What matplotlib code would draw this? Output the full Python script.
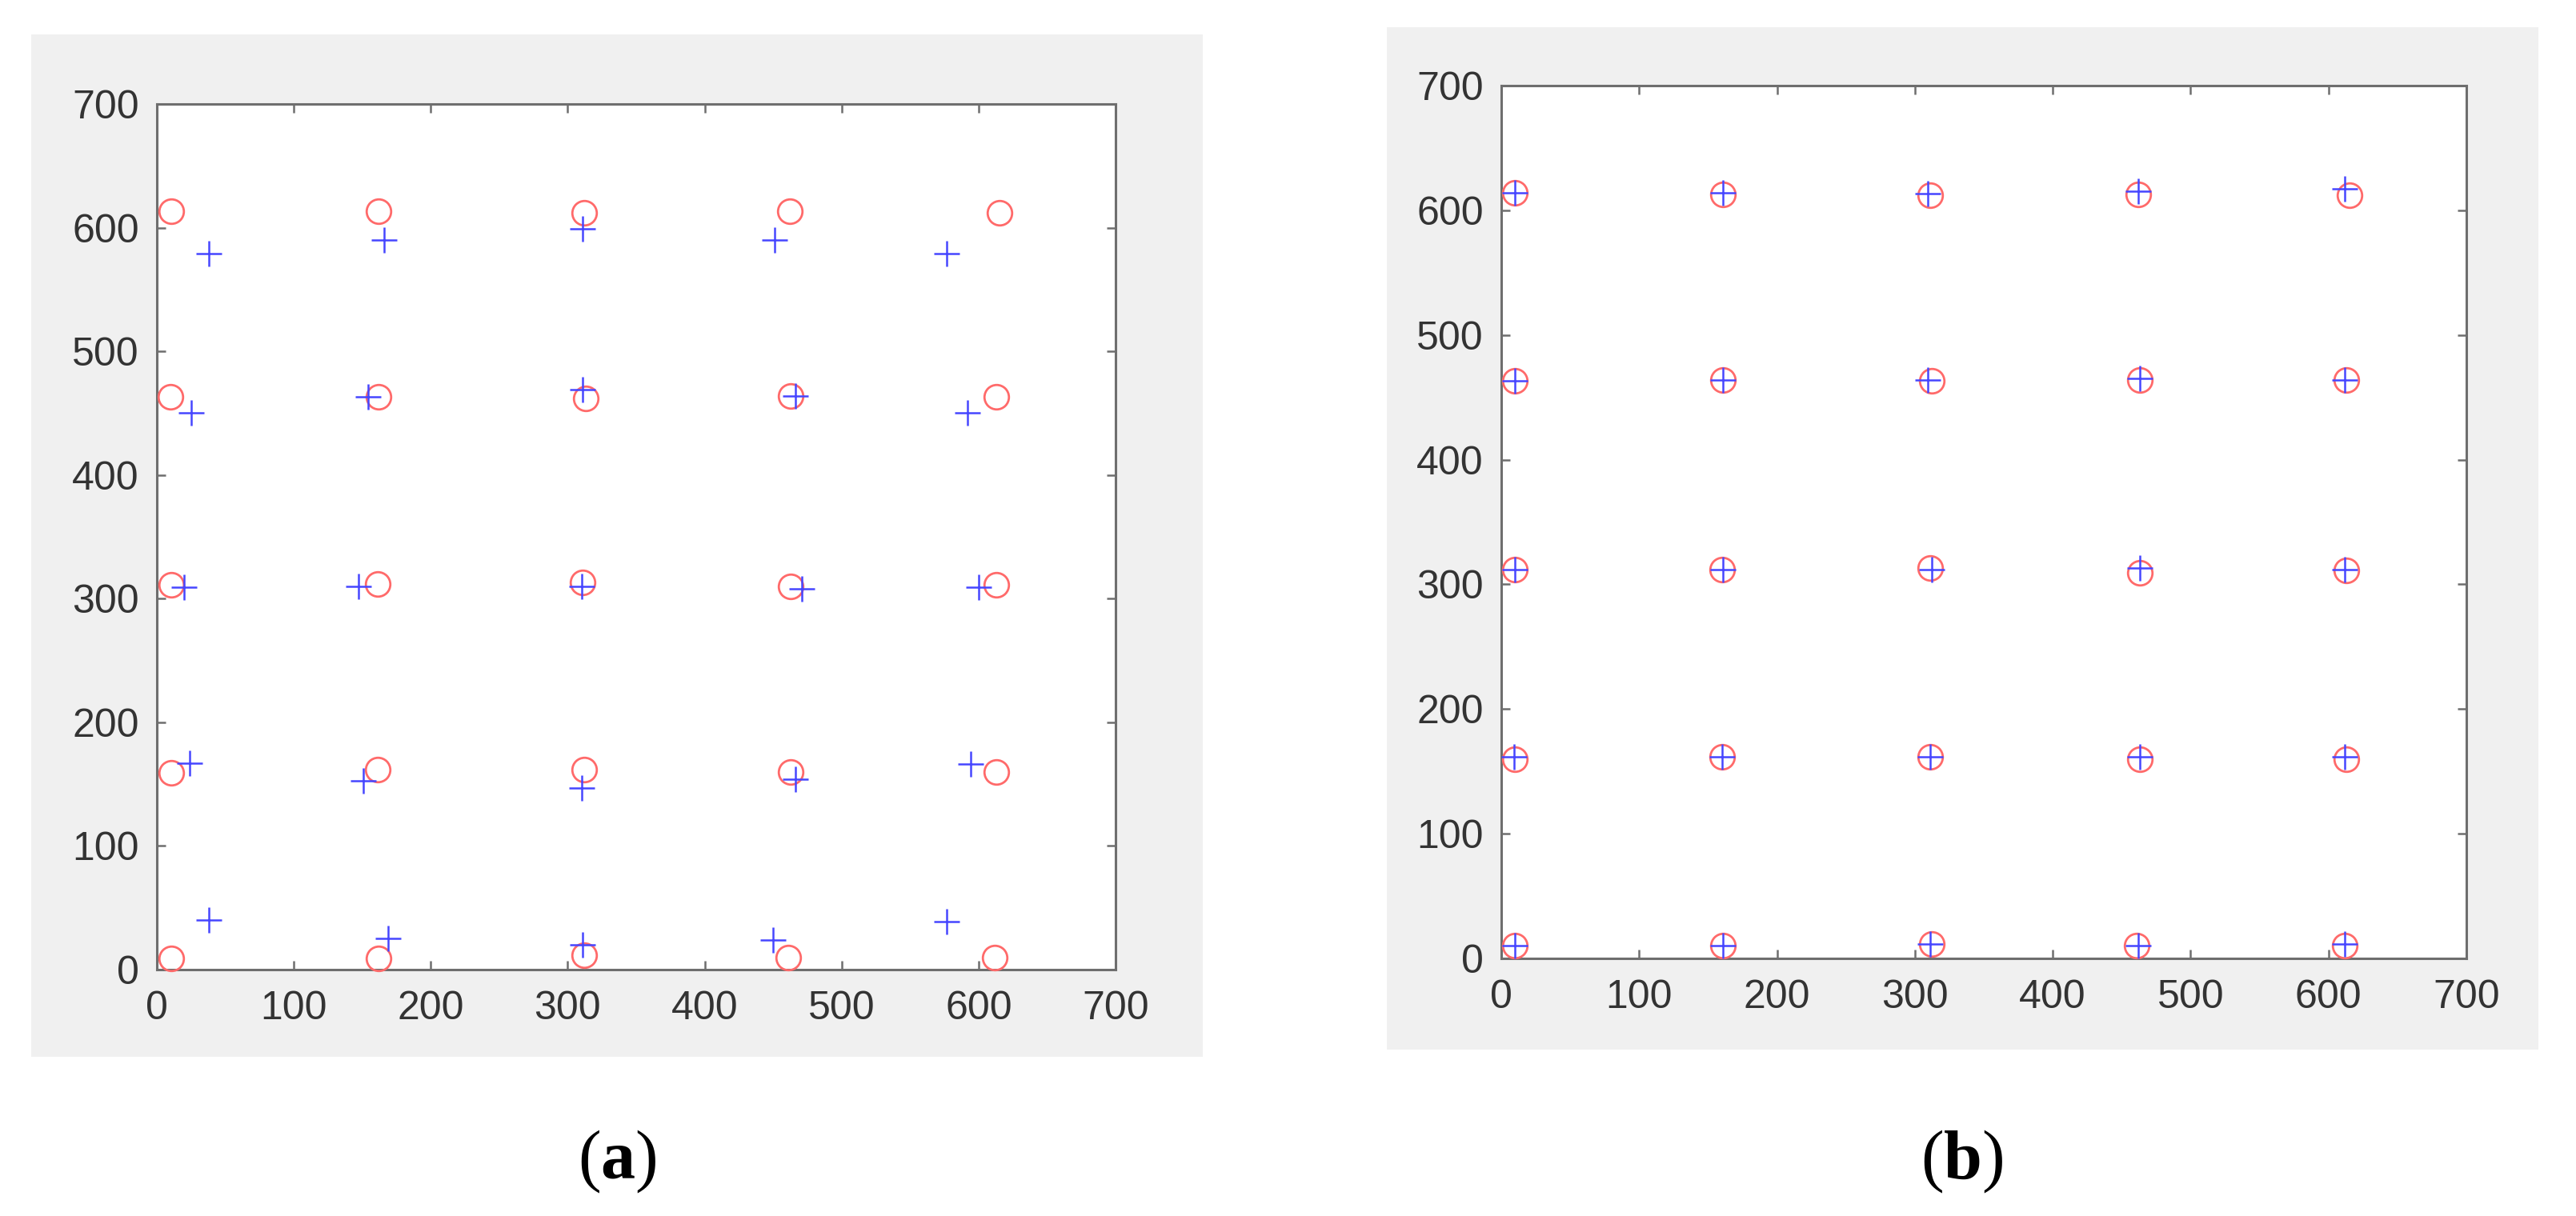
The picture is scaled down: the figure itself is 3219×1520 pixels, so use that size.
import matplotlib
matplotlib.use("Agg")
import matplotlib.pyplot as plt
from matplotlib.patches import Rectangle

# ---------------- data ----------------
ticks = [0, 100, 200, 300, 400, 500, 600, 700]

a_ref_x = [10.5, 162, 312, 462, 615, 10, 162, 313, 463, 613, 10.5, 161, 311, 463, 613,
           10.5, 161, 312, 463, 613, 10.5, 162, 312, 461, 612]
a_ref_y = [613, 613, 612, 613, 612, 463, 463, 462, 464, 463, 311, 312, 313, 310, 311,
           159, 162, 162, 160, 160, 9, 9, 11.5, 10, 10]
a_est_x = [38, 166, 311, 451, 577, 25, 154, 311, 466, 592, 20, 147, 310, 471, 600,
           24, 151, 310, 466, 594, 38, 169, 311, 450, 577]
a_est_y = [579, 590, 599, 590, 579, 450, 463, 469, 464, 450, 309, 310, 310, 308, 309,
           167, 153, 147, 154, 166, 40, 25, 20, 24, 39]

b_ref_x = [10, 161, 311, 462, 615, 10, 161, 312, 463, 613, 10, 160, 311, 463, 613,
           10, 160, 311, 463, 613, 10, 161, 312, 461, 612]
b_ref_y = [614, 613, 612, 613, 612, 463, 464, 463, 464, 464, 312, 312, 313, 309, 311,
           160, 162, 162, 160, 160, 10, 10, 11.5, 10, 10]
b_est_x = [10, 161, 309.5, 462, 612, 10, 161, 309.5, 463, 612, 10, 161, 312, 463, 612,
           9, 160, 311, 463, 612, 10, 161, 311, 462, 612]
b_est_y = [614, 614, 613.5, 615, 617, 463, 464, 464, 465, 464, 312, 312, 312, 313, 312,
           162, 162, 162, 162, 162, 10, 10, 11.5, 10, 11.5]

labels = ["a", "b"]

# ---------------- style ----------------
plt.rcParams['font.family'] = ['Liberation Sans', 'DejaVu Sans']
plt.rcParams['mathtext.fontset'] = 'custom'
plt.rcParams['mathtext.rm'] = 'Liberation Serif'
plt.rcParams['mathtext.bf'] = 'Liberation Serif:bold'

W, H = 3219, 1520
DPI = 100
fig = plt.figure(figsize=(W / DPI, H / DPI), dpi=DPI, facecolor='white')

def fx(px):
    return px / W

def fy(py):
    return (H - py) / H

# gray panel backgrounds (MATLAB figure color)
for (x0, y0, x1, y1) in [(39, 43, 1503, 1321), (1733, 34, 3172, 1312)]:
    fig.add_artist(Rectangle((fx(x0), fy(y1)), fx(x1) - fx(x0), fy(y0) - fy(y1),
                             transform=fig.transFigure, facecolor='#f0f0f0',
                             edgecolor='none', zorder=-10))

axes_px = [(196, 130, 1394, 1212), (1876, 107, 3082, 1198)]
series = [(a_ref_x, a_ref_y, a_est_x, a_est_y), (b_ref_x, b_ref_y, b_est_x, b_est_y)]
label_x = [771, 2452]

for (x0, y0, x1, y1), (rx, ry, ex, ey), lab, lx in zip(axes_px, series, labels, label_x):
    ax = fig.add_axes([fx(x0), fy(y1), fx(x1) - fx(x0), fy(y0) - fy(y1)])
    ax.set_zorder(1)
    ax.set_facecolor('white')
    ax.plot(rx, ry, linestyle='none', marker='o', markersize=22, markerfacecolor='none',
            markeredgecolor='#ff6a6a', markeredgewidth=2.0, clip_on=False, zorder=3)
    ax.plot(ex, ey, linestyle='none', marker='+', markersize=23,
            markeredgecolor='#4646ff', markeredgewidth=1.8, clip_on=False, zorder=4)
    ax.set_xlim(0, 700)
    ax.set_ylim(0, 700)
    ax.set_xticks(ticks)
    ax.set_yticks(ticks)
    ax.set_xticklabels([str(t) for t in ticks])
    ax.set_yticklabels([str(t) for t in ticks])
    for s in ax.spines.values():
        s.set_color('#6e6e6e')
        s.set_linewidth(2.2)
    ax.tick_params(axis='both', direction='in', length=8, width=1.8, color='#6e6e6e',
                   labelsize=36, labelcolor='#333333', top=True, right=True)
    ax.tick_params(axis='x', pad=19)
    ax.tick_params(axis='y', pad=16)
    fig.text(fx(lx), fy(1452), r'$(\mathbf{' + lab + r'})$', ha='center', va='center',
             fontsize=62, color='black')

fig.savefig('out.png', dpi=DPI, facecolor='white')
